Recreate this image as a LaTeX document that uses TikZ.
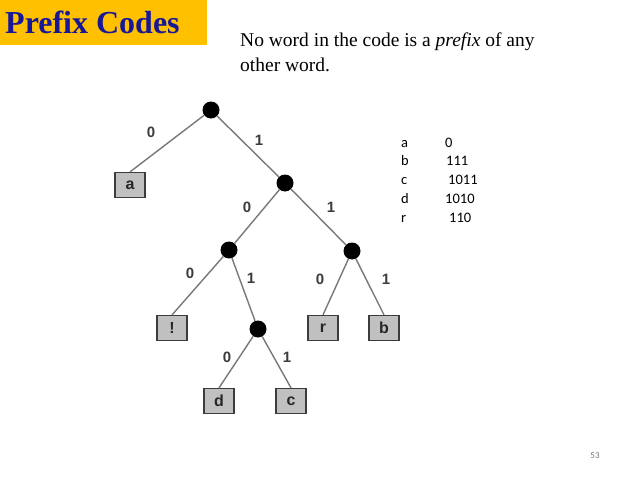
\documentclass[tikz,border=0pt]{standalone}
\usepackage{fontspec}
\setmainfont{Liberation Serif}
\newfontfamily\labfont{Liberation Sans}
\newfontfamily\calfont{Carlito}
\definecolor{titlebg}{RGB}{255,192,0}
\definecolor{titlefg}{RGB}{24,24,150}
\definecolor{edgegray}{RGB}{120,120,120}
\definecolor{boxfill}{RGB}{192,192,192}
\definecolor{labgray}{RGB}{60,60,60}
\definecolor{pagegray}{RGB}{120,120,120}
\begin{document}
\begin{tikzpicture}[x=1pt,y=-1pt,
  inode/.style={circle,fill=black,minimum size=17pt,inner sep=0pt},
  leaf/.style={draw=labgray,line width=1.2pt,fill=boxfill,minimum width=30pt,minimum height=25pt,inner sep=0pt,font=\labfont\bfseries\fontsize{16}{16}\selectfont,text=black!85},
  edge/.style={draw=edgegray,line width=1.4pt},
  elab/.style={font=\labfont\bfseries\fontsize{15}{15}\selectfont,text=labgray,inner sep=0pt},
  codetxt/.style={font=\calfont\fontsize{14.5}{14.5}\selectfont,anchor=base west,inner sep=0pt}]
\useasboundingbox (0,0) rectangle (638,479);
\fill[white] (0,0) rectangle (638,479);
% title
\fill[titlebg] (0,0) rectangle (207,45);
\node[anchor=base west,inner sep=0pt,text=titlefg,font=\bfseries\fontsize{32}{32}\selectfont] (title) at (5,33) {Prefix Codes};
% text
\node[anchor=base west,inner sep=0pt,font=\fontsize{19.5}{25}\selectfont] (line1) at (240,46) {No word in the code is a \textit{prefix} of any};
\node[anchor=base west,inner sep=0pt,font=\fontsize{19.5}{25}\selectfont] (line2) at (240,71) {other word.};
% tree nodes
\node[inode] (root) at (211,110) {};
\node[inode] (n1) at (285,183) {};
\node[inode] (n10) at (229,250) {};
\node[inode] (n11) at (352,251) {};
\node[inode] (n101) at (258,329) {};
\node[leaf] (a) at (130,185) {a};
\node[leaf] (ex) at (172,328) {!};
\node[leaf] (r) at (323,328) {r};
\node[leaf] (b) at (384,328) {b};
\node[leaf] (d) at (219,401) {d};
\node[leaf] (c) at (291,401) {c};
% edges
\draw[edge] (root) -- (a.north);
\draw[edge] (root) -- (n1);
\draw[edge] (n1) -- (n10);
\draw[edge] (n1) -- (n11);
\draw[edge] (n10) -- (ex.north);
\draw[edge] (n10) -- (n101);
\draw[edge] (n11) -- (r.north);
\draw[edge] (n11) -- (b.north);
\draw[edge] (n101) -- (d.north);
\draw[edge] (n101) -- (c.north);
% edge labels
\node[elab] (l0) at (151,132) {0};
\node[elab] (l1) at (259,140) {1};
\node[elab] (l10) at (247,207) {0};
\node[elab] (l11) at (331,207) {1};
\node[elab] (l100) at (190,273) {0};
\node[elab] (l101) at (251,278) {1};
\node[elab] (l110) at (320,279) {0};
\node[elab] (l111) at (386,279) {1};
\node[elab] (l1010) at (227,357) {0};
\node[elab] (l1011) at (287,357) {1};
% code table
\node[codetxt] (ta) at (401,147) {a};
\node[codetxt] (tb) at (401,165) {b};
\node[codetxt] (tc) at (401,184) {c};
\node[codetxt] (td) at (401,203) {d};
\node[codetxt] (tr) at (401,222) {r};
\node[codetxt] (ca) at (445,147) {0};
\node[codetxt] (cb) at (446,165) {111};
\node[codetxt] (cc) at (448,184) {1011};
\node[codetxt] (cd) at (445,203) {1010};
\node[codetxt] (cr) at (449,222) {110};
% page number
\node[font=\calfont\fontsize{9}{9}\selectfont,text=pagegray,inner sep=0pt] (pg) at (595,456) {53};
\end{tikzpicture}
\end{document}
